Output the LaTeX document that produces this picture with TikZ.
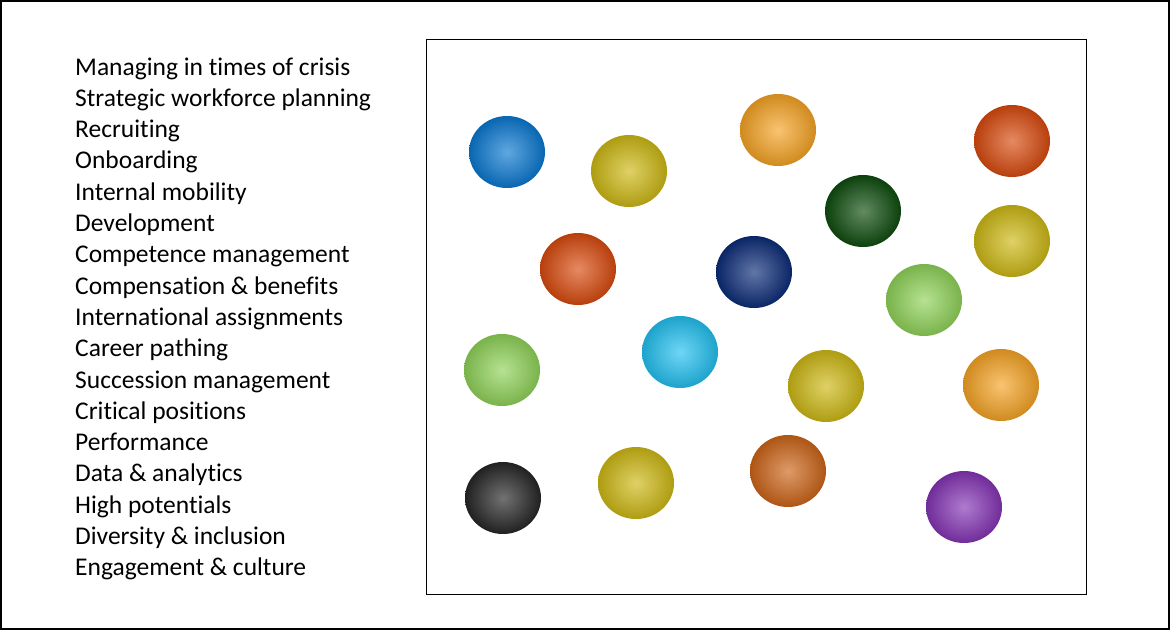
\documentclass[tikz,border=0pt]{standalone}
\usepackage{fontspec}
\setmainfont{Carlito}[Ligatures={NoCommon}]
\begin{document}
\begin{tikzpicture}[x=1pt,y=-1pt,
  ball/.style={inner color=#1!65!white,outer color=#1!85!black,draw=none},
  item/.style={anchor=base west,font=\fontsize{25.5}{25.5}\selectfont,inner sep=0pt}]
\useasboundingbox (0,0) rectangle (1170,630);
\draw[line width=1.2pt] (1,1) rectangle (1169,629);
\draw[line width=1pt] (426,39) rectangle (1086,594);
\foreach \t [count=\i] in {Managing in times of crisis,Strategic workforce planning,Recruiting,Onboarding,Internal mobility,Development,Competence management,Compensation \& benefits,International assignments,Career pathing,Succession management,Critical positions,Performance,Data \& analytics,High potentials,Diversity \& inclusion,Engagement \& culture}
  \node[item] (t\i) at (75,{75+(\i-1)*31.3}) {\t};
\definecolor{cblue}{HTML}{0A78D0}
\definecolor{cyel}{HTML}{CDB814}
\definecolor{corg}{HTML}{F5A324}
\definecolor{cred}{HTML}{D84A0E}
\definecolor{cdg}{HTML}{0E4C0E}
\definecolor{cnavy}{HTML}{0C2C78}
\definecolor{clg}{HTML}{8FD258}
\definecolor{ccy}{HTML}{22C0F0}
\definecolor{cblk}{HTML}{262626}
\definecolor{cbrn}{HTML}{CC6418}
\definecolor{cpur}{HTML}{8434B4}
\foreach \x/\y/\c [count=\i] in {507/152/cblue,629/171/cyel,778/130/corg,1012/141/cred,863/211/cdg,1012/241/cyel,578/269/cred,754/272/cnavy,924/300/clg,502/370/clg,680/352/ccy,826/386/cyel,1001/385/corg,503/498/cblk,636/483/cyel,788/471/cbrn,964/507/cpur}
  \shade[ball=\c] (\x,\y) ellipse [x radius=38,y radius=36];
\end{tikzpicture}
\end{document}
